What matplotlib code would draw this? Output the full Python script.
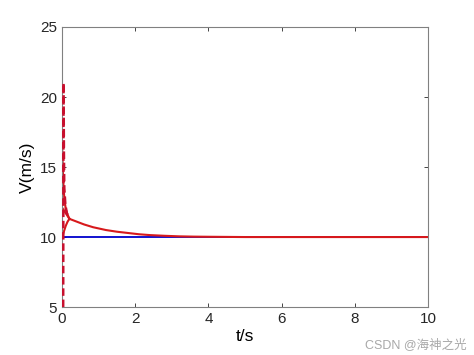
import numpy as np
import matplotlib.pyplot as plt

plt.rcParams['font.family'] = ['Liberation Sans', 'Noto Sans CJK SC', 'DejaVu Sans']

# reference speed (blue)
t_ref = [0, 10]
v_ref = [10, 10]

# follower speeds, solid red
t_f1 = [0, 0.03, 0.06, 0.1, 0.15, 0.2]
v_f1 = [16.5, 14.0, 12.8, 12.0, 11.6, 11.3]
t_f2 = [0, 0.05, 0.1, 0.15, 0.2]
v_f2 = [12.1, 11.9, 11.7, 11.5, 11.3]
t_f3 = [0, 0.05, 0.1, 0.15, 0.2]
v_f3 = [10.0, 10.4, 10.8, 11.1, 11.3]

# common decay after merging
t_dec = [0.2, 0.4, 0.6, 0.85, 1.2, 1.5, 1.8, 2.1, 2.4, 2.8, 3.2, 3.6, 4.0, 5.0, 6.0, 8.0, 10.0]
v_dec = [11.3, 11.1, 10.9, 10.7, 10.5, 10.38, 10.29, 10.2, 10.14, 10.09, 10.05, 10.03, 10.02, 10.0, 10.0, 10.0, 10.0]

# dashed spike near t=0
t_sp = [0.03, 0.035, 0.04, 0.05, 0.06, 0.09, 0.13, 0.2]
v_sp = [5.0, 13.0, 21.0, 16.0, 13.5, 12.3, 11.7, 11.3]

fig = plt.figure(figsize=(4.74, 3.55), dpi=100)
ax = fig.add_axes([0.131, 0.135, 0.772, 0.789])

red = '#d7191c'
ax.plot(t_ref, v_ref, color='#0000cc', lw=1.3)
ax.plot(t_dec, v_dec, color=red, lw=1.5)
ax.plot(t_f1, v_f1, color=red, lw=1.5)
ax.plot(t_f2, v_f2, color=red, lw=1.5)
ax.plot(t_f3, v_f3, color=red, lw=1.5)
ax.plot(t_sp, v_sp, color='#c8102e', lw=1.8, ls=(0, (3, 1.5)), zorder=3)

ax.set_xlim(0, 10)
ax.set_ylim(5, 25)
ax.set_xticks([0, 2, 4, 6, 8, 10])
ax.set_yticks([5, 10, 15, 20, 25])
ax.tick_params(direction='in', top=True, right=True, length=3, width=0.6,
               labelsize=11, colors='#262626')
for s in ax.spines.values():
    s.set_color('#808080')
    s.set_linewidth(0.8)

ax.set_xlabel('t/s', fontsize=12.5, labelpad=2)
ax.set_ylabel('V(m/s)', fontsize=12.5, labelpad=4)

fig.text(0.985, 0.01, 'CSDN @海神之光', ha='right', va='bottom',
         fontsize=9, color='#a8a8a8')

fig.savefig('out.png', dpi=100)
